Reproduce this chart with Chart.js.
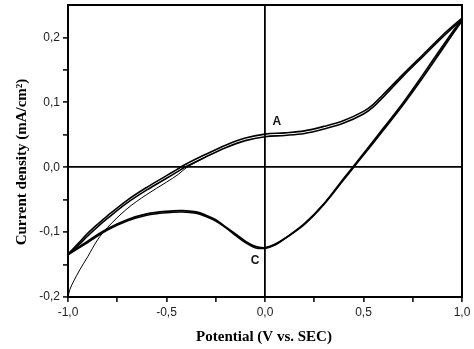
<!DOCTYPE html>
<html>
<head>
<meta charset="utf-8">
<script src="https://cdn.jsdelivr.net/npm/chart.js@4/dist/chart.umd.min.js"></script>
<style>
  html, body { margin: 0; padding: 0; background: #fff; }
  #c { display: block; }
</style>
</head>
<body>
<canvas id="c" width="474" height="349"></canvas>
<script>
// ---- Data (potential in V vs. SEC, current density in mA/cm²) ----
const potFwd  = [-1.00,-0.95,-0.90,-0.85,-0.80,-0.70,-0.60,-0.50,-0.45,-0.40,-0.30,-0.20,-0.10,0.00,0.10,0.20,0.30,0.40,0.50,0.55,0.60,0.70,0.80,0.90,1.00];
const curFwd1 = [-0.134,-0.118,-0.102,-0.088,-0.075,-0.051,-0.031,-0.013,-0.004,0.005,0.020,0.034,0.045,0.051,0.053,0.056,0.063,0.072,0.086,0.097,0.112,0.143,0.173,0.203,0.230];
const curFwd2 = [-0.134,-0.121,-0.106,-0.092,-0.079,-0.055,-0.035,-0.017,-0.008,0.001,0.016,0.030,0.041,0.047,0.049,0.052,0.059,0.068,0.082,0.093,0.108,0.140,0.170,0.200,0.228];

const potRev  = [1.00,0.90,0.80,0.70,0.60,0.50,0.45,0.40,0.30,0.20,0.10,0.05,0.00,-0.05,-0.10,-0.15,-0.20,-0.25,-0.30,-0.35,-0.42,-0.50,-0.60,-0.70,-0.80,-0.90,-1.00];
const curRev1 = [0.226,0.182,0.138,0.096,0.057,0.019,0.000,-0.019,-0.057,-0.088,-0.110,-0.119,-0.124,-0.122,-0.114,-0.103,-0.092,-0.081,-0.074,-0.069,-0.067,-0.068,-0.072,-0.081,-0.095,-0.114,-0.134];
const curRev2 = [0.229,0.186,0.142,0.099,0.060,0.021,0.002,-0.017,-0.056,-0.087,-0.110,-0.120,-0.125,-0.124,-0.116,-0.105,-0.093,-0.083,-0.076,-0.071,-0.069,-0.070,-0.074,-0.083,-0.097,-0.116,-0.135];

const potInit = [-1.00,-0.99,-0.97,-0.94,-0.90,-0.85,-0.80,-0.70,-0.60,-0.50,-0.44,-0.40,-0.30];
const curInit = [-0.200,-0.188,-0.175,-0.158,-0.138,-0.112,-0.093,-0.064,-0.042,-0.023,-0.011,-0.001,0.016];

const peakLabels = ['A', 'C'];
const peakPot = [0.06, -0.05];
const peakCur = [0.070, -0.144];

const xTitle = 'Potential (V vs. SEC)';
const yTitle = 'Current density (mA/cm²)';

function pts(xs, ys) { return xs.map((x, i) => ({ x: x, y: ys[i] })); }
function comma(v) { return v.toFixed(1).replace('.', ','); }
function isMult(v, s) { return Math.abs(v / s - Math.round(v / s)) < 1e-6; }

const lineBase = { showLine: true, pointRadius: 0, borderColor: '#000', fill: false, tension: 0.35 };

const extras = {
  id: 'extras',
  afterDatasetsDraw(chart) {
    const { ctx, chartArea: a, scales } = chart;
    ctx.save();
    // frame
    ctx.strokeStyle = '#000';
    ctx.lineWidth = 2;
    ctx.strokeRect(a.left, a.top, a.right - a.left, a.bottom - a.top);
    // peak labels
    ctx.fillStyle = '#111';
    ctx.font = 'bold 12px "Liberation Sans", Arial, sans-serif';
    ctx.textAlign = 'center';
    ctx.textBaseline = 'middle';
    peakLabels.forEach((t, i) => {
      ctx.fillText(t, scales.x.getPixelForValue(peakPot[i]), scales.y.getPixelForValue(peakCur[i]));
    });
    // axis titles
    ctx.fillStyle = '#000';
    ctx.font = 'bold 15px "Liberation Serif", "Times New Roman", serif';
    ctx.fillText(xTitle, 264, 337);
    ctx.translate(22, 162);
    ctx.rotate(-Math.PI / 2);
    ctx.fillText(yTitle, 0, 0);
    ctx.restore();
  }
};

new Chart(document.getElementById('c'), {
  type: 'scatter',
  data: {
    datasets: [
      Object.assign({ data: pts(potInit, curInit), borderWidth: 1 }, lineBase),
      Object.assign({ data: pts(potFwd, curFwd1), borderWidth: 1.6 }, lineBase),
      Object.assign({ data: pts(potFwd, curFwd2), borderWidth: 1.6 }, lineBase),
      Object.assign({ data: pts(potRev, curRev1), borderWidth: 1.8 }, lineBase),
      Object.assign({ data: pts(potRev, curRev2), borderWidth: 1.6 }, lineBase)
    ]
  },
  options: {
    responsive: false,
    animation: false,
    layout: { padding: { top: 5, right: 12, left: 0, bottom: 0 } },
    plugins: { legend: { display: false }, tooltip: { enabled: false } },
    scales: {
      x: {
        type: 'linear',
        min: -1, max: 1,
        afterFit(s) { s.height = 52; },
        border: { display: false },
        grid: {
          drawOnChartArea: true,
          color: c => (c.tick && Math.abs(c.tick.value) < 1e-9) ? '#000' : 'rgba(0,0,0,0)',
          lineWidth: 1.8,
          tickColor: '#000',
          tickLength: 5,
          tickWidth: 1.5
        },
        ticks: {
          stepSize: 0.25,
          autoSkip: false,
          maxRotation: 0,
          padding: 3,
          color: '#222',
          font: { family: '"Liberation Sans", Arial, sans-serif', size: 12 },
          callback: v => isMult(v, 0.5) ? comma(v) : ''
        }
      },
      y: {
        type: 'linear',
        min: -0.2, max: 0.25,
        afterFit(s) { s.width = 68; s.paddingTop = 0; s.paddingBottom = 0; },
        border: { display: false },
        grid: {
          drawOnChartArea: true,
          color: c => (c.tick && Math.abs(c.tick.value) < 1e-9) ? '#000' : 'rgba(0,0,0,0)',
          lineWidth: 1.8,
          tickColor: c => (c.tick && c.tick.value > 0.24) ? 'rgba(0,0,0,0)' : '#000',
          tickLength: 5,
          tickWidth: 1.5
        },
        ticks: {
          stepSize: 0.05,
          autoSkip: false,
          padding: 3,
          color: '#222',
          font: { family: '"Liberation Sans", Arial, sans-serif', size: 12 },
          callback: v => (isMult(v, 0.1) && v < 0.24) ? comma(v) : ''
        }
      }
    }
  },
  plugins: [extras]
});
</script>
</body>
</html>
